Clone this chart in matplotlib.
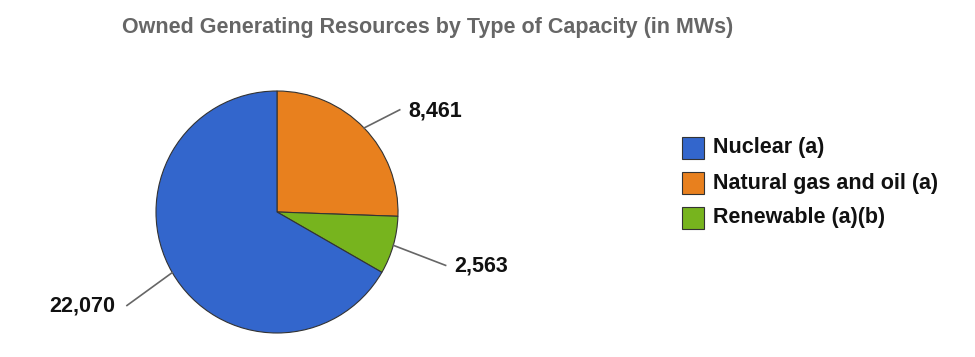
import numpy as np
import matplotlib.pyplot as plt
from matplotlib.patches import Rectangle

plt.rcParams['font.family'] = ['Liberation Sans', 'DejaVu Sans']

# data
labels = ['Nuclear (a)', 'Natural gas and oil (a)', 'Renewable (a)(b)']
values = [22070, 8461, 2563]
colors = ['#3366cc', '#e8801e', '#77b41e']
title = 'Owned Generating Resources by Type of Capacity (in MWs)'

W, H = 975, 357
fig = plt.figure(figsize=(W / 100, H / 100), dpi=100)
ax = fig.add_axes([0, 0, 1, 1])

cx, cy, r = 277, H - 212, 121

# pie drawn clockwise from 12 o'clock: orange, green, then blue
order = [1, 2, 0]
vals = [values[i] for i in order]
cols = [colors[i] for i in order]
wedges, _ = ax.pie(vals, colors=cols, startangle=90, counterclock=False,
                   center=(cx, cy), radius=r, frame=True,
                   wedgeprops=dict(edgecolor='#333333', linewidth=0.8))
ax.set_xlim(0, W)
ax.set_ylim(0, H)
ax.set_aspect('equal')
ax.axis('off')

# leader line direction (deg) and length (px) per wedge, same order as vals
line_ang = [27, -21, -144]
line_len = [40, 56, 56]

for w, v, la, ll in zip(wedges, vals, line_ang, line_len):
    ang = np.deg2rad((w.theta1 + w.theta2) / 2)
    x0, y0 = cx + r * np.cos(ang), cy + r * np.sin(ang)
    x1 = x0 + ll * np.cos(np.deg2rad(la))
    y1 = y0 + ll * np.sin(np.deg2rad(la))
    ax.plot([x0, x1], [y0, y1], color='#666666', lw=1.2)
    ha = 'left' if np.cos(ang) >= 0 else 'right'
    dx = 9 if ha == 'left' else -12
    ax.text(x1 + dx, y1 - 1, f'{v:,}', ha=ha, va='center',
            fontsize=15.5, fontweight='bold', color='#111111')

# title
ax.text(428, H - 27, title, ha='center', va='center', fontsize=15.5,
        fontweight='bold', color='#666666')

# legend
for i, (lab, col) in enumerate(zip(labels, colors)):
    yy = H - 148 - i * 35
    ax.add_patch(Rectangle((682, yy - 11), 22, 22, facecolor=col,
                           edgecolor='#333333', lw=0.8))
    ax.text(713, yy, lab, ha='left', va='center', fontsize=15.5,
            fontweight='bold', color='#111111')

fig.savefig('out.png', dpi=100)
